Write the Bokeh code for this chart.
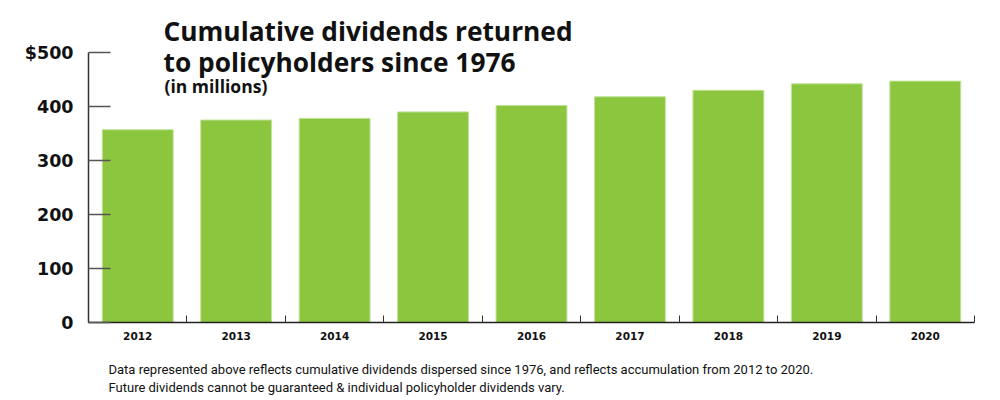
from bokeh.plotting import figure
from bokeh.models import Range1d, FixedTicker, Label, Title
from bokeh.embed import file_html
from bokeh.resources import INLINE

years = ["2012", "2013", "2014", "2015", "2016", "2017", "2018", "2019", "2020"]
dividends = [357, 375, 378, 390, 402, 418, 430, 442, 447]
y_ticks = [0, 100, 200, 300, 400, 500]
y_tick_labels = ["0", "100", "200", "300", "400", "$500"]

title_lines = ["Cumulative dividends returned", "to policyholders since 1976"]
subtitle = "(in millions)"
notes = [
    "Data represented above reflects cumulative dividends dispersed since 1976, and reflects accumulation from 2012 to 2020.",
    "Future dividends cannot be guaranteed & individual policyholder dividends vary.",
]

n = len(years)
centers = [i + 0.5 for i in range(n)]

W, H = 1000, 400
L, R, B = 88, 26, 78
FW = W - L - R
FH = H - B            # frame spans from the top of the canvas to the x axis
AXIS_TOP_PX = 52      # pixel row of the top tick ($500)
YMAX = 500
YTOP = YMAX * FH / (FH - AXIS_TOP_PX)

p = figure(width=W, height=H, output_backend="svg", toolbar_location=None,
           x_range=Range1d(0, n), y_range=Range1d(0, YTOP),
           min_border_left=L, min_border_right=R, min_border_top=0, min_border_bottom=B)
p.outline_line_color = None
p.xgrid.grid_line_color = None
p.ygrid.grid_line_color = None
p.background_fill_color = "white"
p.border_fill_color = "white"

p.vbar(x=centers, top=dividends, width=0.72, bottom=0,
       fill_color="#8cc63f", line_color="#c2e29a", line_width=1)

# x axis
xa = p.xaxis[0]
xa.ticker = FixedTicker(ticks=centers, minor_ticks=list(range(0, n + 1)))
xa.major_label_overrides = {c: y for c, y in zip(centers, years)}
xa.major_tick_in = 0
xa.major_tick_out = 0
xa.minor_tick_in = 7
xa.minor_tick_out = 0
xa.minor_tick_line_color = "#333333"
xa.axis_line_color = "#222222"
xa.axis_line_width = 1.5
xa.major_label_text_font = "DejaVu Sans"
xa.major_label_text_font_style = "bold"
xa.major_label_text_font_size = "10.5px"
xa.major_label_text_color = "#111111"
xa.major_label_standoff = 9
# blank axis label used only as vertical spacing before the notes
xa.axis_label = " "
xa.axis_label_text_font_size = "12px"
xa.axis_label_standoff = 0

# y axis
ya = p.yaxis[0]
ya.ticker = FixedTicker(ticks=y_ticks)
ya.bounds = (0, YMAX)
ya.major_label_overrides = {t: s for t, s in zip(y_ticks, y_tick_labels)}
ya.major_tick_in = 22
ya.major_tick_out = 0
ya.major_tick_line_color = "#555555"
ya.major_tick_line_width = 1.5
ya.minor_tick_line_color = None
ya.axis_line_color = "#333333"
ya.axis_line_width = 1.5
ya.major_label_text_font = "DejaVu Sans"
ya.major_label_text_font_style = "bold"
ya.major_label_text_font_size = "17.5px"
ya.major_label_text_color = "#111111"
ya.major_label_standoff = 15


def px_to_x(px):
    return (px - L) / FW * n


def px_to_y(py):
    return (FH - py) / FH * YTOP


title_tops = [12, 43]
for line, top in zip(title_lines, title_tops):
    p.add_layout(Label(x=px_to_x(163), y=px_to_y(top), text=line,
                       text_font="Open Sans", text_font_style="bold", text_font_size="26.3px",
                       text_color="#111111", text_baseline="top", text_align="left"))
p.add_layout(Label(x=px_to_x(164), y=px_to_y(73), text=subtitle,
                   text_font="Open Sans", text_font_style="bold", text_font_size="17.5px",
                   text_color="#111111", text_baseline="top", text_align="left"))

for i, line in enumerate(notes):
    p.add_layout(Title(text=line, align="left", offset=20,
                       text_font="Roboto", text_font_style="normal", text_font_size="13px",
                       text_color="#111111", standoff=1), "below")

open("out.html", "w").write(file_html(p, INLINE))
